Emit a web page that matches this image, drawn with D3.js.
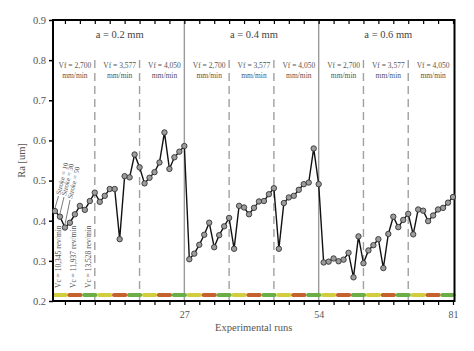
<!DOCTYPE html>
<html>
<head>
<meta charset="utf-8">
<script src="https://cdn.jsdelivr.net/npm/d3@7"></script>
<style>
  body { margin: 0; background: #fff; }
  text { font-family: "Liberation Serif", "DejaVu Serif", serif; }
</style>
</head>
<body>
<div id="chart"></div>
<script>
// Ra values for experimental runs 1..81
const ra = [
    0.424, 0.410, 0.383, 0.395, 0.416, 0.437, 0.427, 0.449, 0.470,
    0.447, 0.462, 0.479, 0.479, 0.354, 0.511, 0.508, 0.565, 0.533,
    0.493, 0.507, 0.521, 0.545, 0.620, 0.529, 0.558, 0.572, 0.586,
    0.304, 0.318, 0.340, 0.365, 0.395, 0.334, 0.364, 0.386, 0.407,
    0.330, 0.437, 0.433, 0.416, 0.432, 0.448, 0.449, 0.466, 0.481,
    0.330, 0.444, 0.458, 0.462, 0.477, 0.491, 0.495, 0.580, 0.491,
    0.296, 0.298, 0.306, 0.299, 0.303, 0.320, 0.259, 0.361, 0.294,
    0.326, 0.339, 0.354, 0.282, 0.367, 0.410, 0.384, 0.402, 0.417,
    0.366, 0.428, 0.425, 0.399, 0.413, 0.428, 0.432, 0.445, 0.459
];
const depthLabels = ['a = 0.2 mm', 'a = 0.4 mm', 'a = 0.6 mm'];
const feedLabels = ['Vf = 2,700', 'Vf = 3,577', 'Vf = 4,050'];
const speedLabels = ['Vc = 10,345 rev/min', 'Vc = 11,937 rev/min', 'Vc = 13,528 rev/min'];
const strokeLabels = ['Stroke = 10', 'Stroke = 30', 'Stroke = 50'];
const speedColors = ['#d2cd3c', '#c4612c', '#6aae45'];
const yTicks = [0.2, 0.3, 0.4, 0.5, 0.6, 0.7, 0.8, 0.9];
const xLabelTicks = [27, 54, 81];
const dashedRuns = [9, 18, 36, 45, 63, 72];
const solidRuns = [27, 54];

const width = 474, height = 351;
const margin = { top: 20, right: 19.5, bottom: 50, left: 53 };

const svg = d3.select('#chart')
    .append('svg')
    .attr('width', width)
    .attr('height', height);

const data = ra.map((v, i) => ({ run: i + 1, ra: v }));

const x = d3.scaleLinear()
    .domain([0.6, 81.3])
    .range([margin.left, width - margin.right]);

const y = d3.scaleLinear()
    .domain([0.2, 0.9])
    .range([height - margin.bottom, margin.top]);

const plotTop = margin.top, plotBottom = height - margin.bottom;
const plotLeft = margin.left, plotRight = width - margin.right;

// section dividers
svg.append('g').selectAll('line')
    .data(solidRuns)
    .enter().append('line')
    .attr('x1', d => x(d)).attr('x2', d => x(d))
    .attr('y1', plotTop).attr('y2', plotBottom)
    .attr('stroke', '#9a9a9a')
    .attr('stroke-width', 1.4);

svg.append('g').selectAll('line')
    .data(dashedRuns)
    .enter().append('line')
    .attr('x1', d => x(d)).attr('x2', d => x(d))
    .attr('y1', 60).attr('y2', plotBottom)
    .attr('stroke', '#a0a0a0')
    .attr('stroke-width', 1.4)
    .attr('stroke-dasharray', '8,5');

// coloured speed bars along the bottom
const groups = d3.range(27).map(k => ({ k: k, start: 3 * k + 0.5, end: 3 * k + 3.5 }));
svg.append('g').selectAll('line')
    .data(groups)
    .enter().append('line')
    .attr('x1', d => x(d.start) + 1.8)
    .attr('x2', d => x(d.end) - 1.8)
    .attr('y1', y(0.215)).attr('y2', y(0.215))
    .attr('stroke', d => speedColors[d.k % 3])
    .attr('stroke-width', 4)
    .attr('stroke-linecap', 'round');

// depth titles
svg.append('g').selectAll('text')
    .data(depthLabels)
    .enter().append('text')
    .attr('x', (d, i) => x(27 * i + 14))
    .attr('y', 38)
    .attr('text-anchor', 'middle')
    .attr('font-size', 10.5)
    .attr('fill', '#444')
    .text(d => d);

// feed labels
const feeds = d3.range(9).map(i => ({ i: i, label: feedLabels[i % 3] }));
const feedGroup = svg.append('g')
    .attr('font-size', 7.5)
    .attr('fill', '#555')
    .attr('text-anchor', 'middle');
feedGroup.selectAll('text.vf')
    .data(feeds)
    .enter().append('text')
    .attr('class', 'vf')
    .attr('x', d => x(9 * d.i + 5))
    .attr('y', 68)
    .text(d => d.label);
feedGroup.selectAll('text.unit')
    .data(feeds)
    .enter().append('text')
    .attr('class', 'unit')
    .attr('x', d => x(9 * d.i + 5))
    .attr('y', 78)
    .text('mm/min');

// axes
svg.append('g')
    .attr('transform', `translate(0,${plotBottom})`)
    .call(d3.axisBottom(x).tickValues(d3.range(3, 82, 3)).tickSize(4)
        .tickFormat(d => xLabelTicks.includes(d) ? d : ''))
    .call(g => g.select('.domain').remove())
    .call(g => g.selectAll('line').attr('stroke', '#000').attr('stroke-width', 1.2))
    .call(g => g.selectAll('text').attr('font-size', 10).attr('fill', '#555')
        .attr('font-family', '"Liberation Serif", serif').attr('dy', '1em'));

svg.append('g')
    .attr('transform', `translate(0,${plotTop})`)
    .call(d3.axisBottom(x).tickValues(d3.range(3, 82, 3)).tickSize(4).tickFormat(''))
    .call(g => g.select('.domain').remove())
    .call(g => g.selectAll('line').attr('stroke', '#000').attr('stroke-width', 1.2));

svg.append('g')
    .attr('transform', `translate(${plotLeft},0)`)
    .call(d3.axisLeft(y).tickValues(yTicks).tickSize(4).tickFormat(d3.format('.1f')))
    .call(g => g.select('.domain').remove())
    .call(g => g.selectAll('line').attr('stroke', '#000').attr('stroke-width', 1.5))
    .call(g => g.selectAll('text').attr('font-size', 10.5).attr('fill', '#555')
        .attr('font-family', '"Liberation Serif", serif').attr('x', -7));

// frame
svg.append('rect')
    .attr('x', plotLeft).attr('y', plotTop)
    .attr('width', plotRight - plotLeft).attr('height', plotBottom - plotTop)
    .attr('fill', 'none')
    .attr('stroke', '#000')
    .attr('stroke-width', 2);

// Ra line
const line = d3.line()
    .x(d => x(d.run))
    .y(d => y(d.ra));

svg.append('path')
    .datum(data)
    .attr('fill', 'none')
    .attr('stroke', '#111')
    .attr('stroke-width', 1.4)
    .attr('d', line);

svg.append('g').selectAll('circle')
    .data(data)
    .enter().append('circle')
    .attr('cx', d => x(d.run))
    .attr('cy', d => y(d.ra))
    .attr('r', 2.7)
    .attr('fill', '#9c9c9c')
    .attr('stroke', '#333')
    .attr('stroke-width', 0.9);

// speed annotations
svg.append('g').selectAll('text')
    .data(speedLabels)
    .enter().append('text')
    .attr('transform', (d, i) => `translate(${x(3 * i + 2) + 1.5},${plotBottom - 13}) rotate(-90)`)
    .attr('font-size', 7.5)
    .attr('fill', '#555')
    .text(d => d);

// stroke annotations with leaders
const strokeAnchors = [[58.5, 196], [64, 197], [70, 200]];
svg.append('g').selectAll('line')
    .data(strokeLabels)
    .enter().append('line')
    .attr('x1', (d, i) => strokeAnchors[i][0])
    .attr('y1', (d, i) => strokeAnchors[i][1])
    .attr('x2', (d, i) => x(i + 1))
    .attr('y2', (d, i) => y(ra[i]) - 3)
    .attr('stroke', '#444')
    .attr('stroke-width', 0.7);

svg.append('g').selectAll('text')
    .data(strokeLabels)
    .enter().append('text')
    .attr('transform', (d, i) => `translate(${strokeAnchors[i][0] + 2},${strokeAnchors[i][1] - 1}) rotate(-76)`)
    .attr('font-size', 7)
    .attr('fill', '#555')
    .text(d => d);

// axis titles
svg.append('text')
    .attr('x', (plotLeft + plotRight) / 2)
    .attr('y', 331)
    .attr('text-anchor', 'middle')
    .attr('font-size', 10.5)
    .attr('fill', '#555')
    .text('Experimental runs');

svg.append('text')
    .attr('transform', 'rotate(-90)')
    .attr('x', -(plotTop + plotBottom) / 2)
    .attr('y', 25)
    .attr('text-anchor', 'middle')
    .attr('font-size', 10.5)
    .attr('fill', '#555')
    .text('Ra [um]');
</script>
</body>
</html>
